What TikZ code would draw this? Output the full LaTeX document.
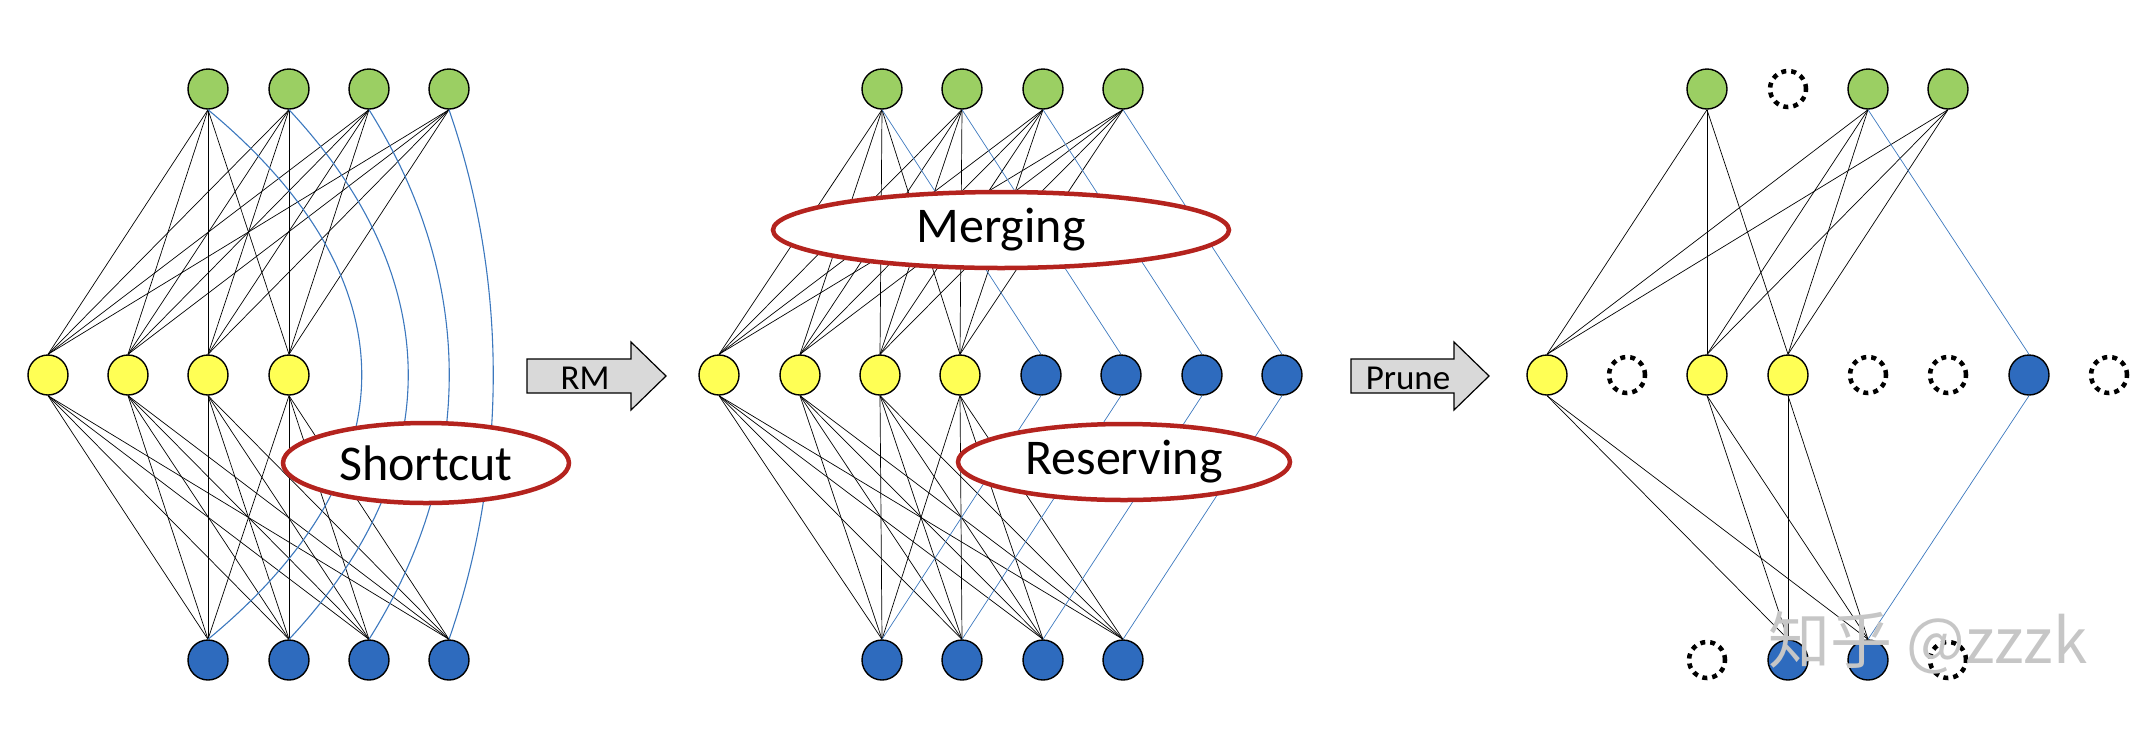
\documentclass[tikz,border=0pt]{standalone}
\usepackage{fontspec}
\usetikzlibrary{shapes.geometric}
\setmainfont{Carlito}
\newfontfamily\cjkf{Noto Sans CJK SC}
\begin{document}
\definecolor{gfill}{RGB}{155,207,99}
\definecolor{yfill}{RGB}{255,255,85}
\definecolor{bfill}{RGB}{46,107,190}
\definecolor{bline}{RGB}{60,120,190}
\definecolor{rring}{RGB}{180,35,30}
\definecolor{arrg}{RGB}{217,217,217}
\begin{tikzpicture}[x=1pt,y=-1pt,
  nd/.style={circle,draw=black,line width=1.4pt,minimum size=40pt,inner sep=0pt},
  gn/.style={nd,fill=gfill}, yn/.style={nd,fill=yfill}, bn/.style={nd,fill=bfill},
  dn/.style={circle,draw=black,line width=4.5pt,dash pattern=on 5pt off 5pt,minimum size=36pt,inner sep=0pt},
  ed/.style={black,line width=0.7pt},
  be/.style={bline,line width=1.1pt},
  bt/.style={bline,line width=0.7pt},
  ring/.style={ellipse,draw=rring,line width=4.5pt,fill=white,font=\fontsize{50}{54}\selectfont,inner sep=0pt},
  arr/.style={draw=black,line width=1.2pt,fill=arrg},
  alab/.style={font=\fontsize{35}{38}\selectfont,inner sep=0pt}]
\useasboundingbox (0,0) rectangle (2148,732);
% ---------- panel 1 ----------
\foreach \i/\x in {1/208,2/289,3/369,4/449}{
  \node[gn] (at\i) at (\x,89) {};
  \node[bn] (ab\i) at (\x,660) {};}
\foreach \i/\x in {1/48,2/128,3/208,4/289}{
  \node[yn] (am\i) at (\x,375) {};}
\foreach \i in {1,...,4}{\foreach \j in {1,...,4}{
  \draw[ed] (at\i.south) -- (am\j.north);
  \draw[ed] (am\j.south) -- (ab\i.north);}}
\draw[be] (at1.south) .. controls (413,280) and (413,470) .. (ab1.north);
\draw[be] (at2.south) .. controls (448,280) and (448,470) .. (ab2.north);
\draw[be] (at3.south) .. controls (476,280) and (476,470) .. (ab3.north);
\draw[be] (at4.south) .. controls (508,280) and (508,470) .. (ab4.north);
\node[ring,minimum width=286pt,minimum height=80pt] (sc) at (426,463) {Shortcut};
% RM arrow
\draw[arr] (527,359) -- (631,359) -- (631,342) -- (666,376) -- (631,410) -- (631,393) -- (527,393) -- cycle;
\node[alab] (rm) at (585,378) {RM};
% ---------- panel 2 ----------
\foreach \i/\x in {1/882,2/962,3/1043,4/1123}{
  \node[gn] (bt\i) at (\x,89) {};
  \node[bn] (bb\i) at (\x,660) {};}
\foreach \i/\x in {1/719,2/800,3/880,4/960}{
  \node[yn] (bm\i) at (\x,375) {};}
\foreach \i/\x in {5/1041,6/1121,7/1202,8/1282}{
  \node[bn] (bm\i) at (\x,375) {};}
\foreach \i in {1,...,4}{\foreach \j in {1,...,4}{
  \draw[ed] (bt\i.south) -- (bm\j.north);
  \draw[ed] (bm\j.south) -- (bb\i.north);}}
\foreach \i/\k in {1/5,2/6,3/7,4/8}{
  \draw[bt] (bt\i.south) -- (bm\k.north);
  \draw[bt] (bm\k.south) -- (bb\i.north);}
\node[ring,minimum width=456pt,minimum height=76pt] (mg) at (1001,230) {Merging};
\node[ring,minimum width=332pt,minimum height=76pt] (rs) at (1124,462) {Reserving};
% Prune arrow
\draw[arr] (1351,359) -- (1454,359) -- (1454,342) -- (1489,376) -- (1454,410) -- (1454,393) -- (1351,393) -- cycle;
\node[alab] (pr) at (1408,378) {Prune};
% ---------- panel 3 ----------
\node[gn] (ct1) at (1707,89) {};
\node[dn] (ct2) at (1788,89) {};
\node[gn] (ct3) at (1868,89) {};
\node[gn] (ct4) at (1948,89) {};
\node[yn] (cm1) at (1547,375) {};
\node[dn] (cm2) at (1627,375) {};
\node[yn] (cm3) at (1707,375) {};
\node[yn] (cm4) at (1788,375) {};
\node[dn] (cm5) at (1868,375) {};
\node[dn] (cm6) at (1948,375) {};
\node[bn] (cm7) at (2029,375) {};
\node[dn] (cm8) at (2109,375) {};
\node[dn] (cb1) at (1707,660) {};
\node[bn] (cb2) at (1788,660) {};
\node[bn] (cb3) at (1868,660) {};
\node[dn] (cb4) at (1948,660) {};
\foreach \i in {1,3,4}{\foreach \j in {1,3,4}{
  \draw[ed] (ct\i.south) -- (cm\j.north);}
  \foreach \k in {2,3}{\draw[ed] (cm\i.south) -- (cb\k.north);}}
\draw[bt] (ct3.south) -- (cm7.north);
\draw[bt] (cm7.south) -- (cb3.north);
% watermark
\node[text=gray!45,font=\cjkf\fontsize{62}{66}\selectfont,inner sep=0pt] (wm) at (1928,643) {知乎 @zzzk};
\end{tikzpicture}
\end{document}
